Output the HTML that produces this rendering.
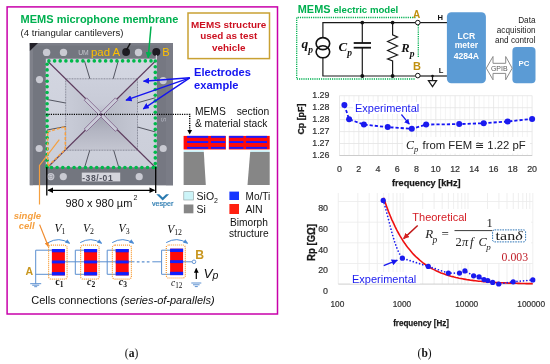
<!DOCTYPE html>
<html><head><meta charset="utf-8">
<style>
html,body{margin:0;padding:0;background:#fff;width:550px;height:364px;overflow:hidden}
svg{display:block}
text{font-family:"Liberation Sans",Arial,sans-serif}
.sf,.sf text,.sf tspan{font-family:"Liberation Serif","Times New Roman",serif}
</style></head><body>
<svg width="550" height="364" viewBox="0 0 550 364">
<defs>
<marker id="agr" viewBox="0 0 10 10" refX="9" refY="5" markerWidth="4.2" markerHeight="4.2" orient="auto"><path d="M0,0 L10,5 L0,10 z" fill="#00b050"/></marker>
<marker id="abl" viewBox="0 0 10 10" refX="9" refY="5" markerWidth="4.5" markerHeight="4.5" orient="auto"><path d="M0,0 L10,5 L0,10 z" fill="#1414f0"/></marker>
<marker id="abk" viewBox="0 0 10 10" refX="9" refY="5" markerWidth="4" markerHeight="4" orient="auto"><path d="M0,0 L10,5 L0,10 z" fill="#000"/></marker>
<marker id="aor" viewBox="0 0 10 10" refX="9" refY="5" markerWidth="4" markerHeight="4" orient="auto"><path d="M0,0 L10,5 L0,10 z" fill="#f08a2c"/></marker>
<marker id="ared" viewBox="0 0 10 10" refX="9" refY="5" markerWidth="4" markerHeight="4" orient="auto"><path d="M0,0 L10,5 L0,10 z" fill="#d42020"/></marker>
<marker id="alb" viewBox="0 0 10 10" refX="8" refY="5" markerWidth="5" markerHeight="5" orient="auto"><path d="M0,1 L10,5 L0,9 z" fill="#4a8ad4"/></marker>
<linearGradient id="gmem" x1="0" y1="0" x2="0" y2="1">
<stop offset="0" stop-color="#d3d6e1"/><stop offset="1" stop-color="#cbced9"/></linearGradient>
<radialGradient id="gctr" cx="0.5" cy="0.5" r="0.6">
<stop offset="0" stop-color="#a9acbb"/><stop offset="0.5" stop-color="#c0c3d0"/><stop offset="1" stop-color="#c9ccd8"/></radialGradient>
<linearGradient id="gtop" x1="0" y1="0" x2="0" y2="1"><stop offset="0" stop-color="#cdd0dc"/><stop offset="0.7" stop-color="#c8cbd7"/><stop offset="1" stop-color="#b8bac7"/></linearGradient>
<linearGradient id="gbot" x1="0" y1="0" x2="0" y2="1"><stop offset="0" stop-color="#9fa1af"/><stop offset="0.45" stop-color="#b3b5c2"/><stop offset="1" stop-color="#c4c6d1"/></linearGradient>
<linearGradient id="grt" x1="0" y1="0" x2="1" y2="0"><stop offset="0" stop-color="#b6b9c5"/><stop offset="1" stop-color="#c4c7d3"/></linearGradient>
<linearGradient id="glf" x1="1" y1="0" x2="0" y2="0"><stop offset="0" stop-color="#bcbfcb"/><stop offset="1" stop-color="#c9ccd8"/></linearGradient>
</defs>

<!-- ============ LEFT PANEL ============ -->
<rect x="7.1" y="6.9" width="270.4" height="307.1" fill="none" stroke="#c800aa" stroke-width="1.5"/>
<text x="20.6" y="23" font-size="11" font-weight="bold" fill="#00b050">MEMS microphone membrane</text>
<text x="20.6" y="35.6" font-size="9.6" fill="#222">(4 triangular cantilevers)</text>

<!-- chip photo -->
<rect x="29.8" y="43" width="143.2" height="142.2" fill="#73767f"/>
<rect x="29.8" y="43" width="3.2" height="142.2" fill="#7f818a"/>
<rect x="157" y="43" width="16" height="142.2" fill="#767882"/>
<rect x="166" y="43" width="7" height="142.2" fill="#7a7c86"/>
<text transform="translate(161,119.5) rotate(90)" font-size="7" fill="#b4b6c0" text-anchor="middle">S</text>
<rect x="29.8" y="43" width="143.2" height="2.5" fill="#7c7e88"/>
<path d="M29.8,43 L38,43 L29.8,51 z" fill="#222028"/>
<rect x="45.8" y="58.7" width="111" height="108.6" fill="url(#gmem)"/>
<g>
<path d="M65.7,78.8 L137.5,78.8 L101,114.6 z" fill="url(#gtop)"/>
<path d="M137.5,78.8 L137.5,150.2 L101,114.6 z" fill="url(#grt)"/>
<path d="M65.7,150.2 L137.5,150.2 L101,114.6 z" fill="url(#gbot)"/>
<path d="M65.7,78.8 L65.7,150.2 L101,114.6 z" fill="url(#glf)"/>
</g>
<rect x="65.7" y="78.8" width="71.8" height="71.4" fill="none" stroke="#6e7080" stroke-width="0.8" stroke-dasharray="0.9 0.7"/>
<!-- short lines -->
<g stroke="#454752" stroke-width="0.9" fill="none">
<line x1="84.5" y1="61" x2="89.9" y2="78.8"/><line x1="118.2" y1="61" x2="113.2" y2="78.8"/>
<line x1="89.8" y1="150.2" x2="84.9" y2="166.5"/><line x1="113.7" y1="150.2" x2="118.5" y2="166.5"/>
<line x1="47" y1="99.5" x2="65.7" y2="103"/><line x1="47" y1="130" x2="65.7" y2="126.5"/>
<line x1="137.5" y1="102.8" x2="155.6" y2="97.7"/><line x1="137.5" y1="127" x2="155.6" y2="132"/>
</g>
<!-- diagonals -->
<g stroke="#5e3c5e" stroke-width="1.1">
<line x1="48" y1="61.5" x2="155" y2="167"/><line x1="155" y1="61.5" x2="48" y2="167"/>
</g>
<!-- electrode bars -->
<g fill="#cacbd8" stroke="#7a5a84" stroke-width="0.7">
<rect x="1" y="-1.7" width="21" height="3.4" transform="translate(101,114.6) rotate(-135)"/>
<rect x="1" y="-1.7" width="21" height="3.4" transform="translate(101,114.6) rotate(-45)"/>
<rect x="1" y="-1.7" width="21" height="3.4" transform="translate(101,114.6) rotate(45)"/>
<rect x="1" y="-1.7" width="21" height="3.4" transform="translate(101,114.6) rotate(135)"/>
</g>
<!-- pads -->
<g fill="#c9cad2">
<circle cx="46.6" cy="52.4" r="3.7"/><circle cx="63.5" cy="52.4" r="3.7"/><circle cx="138.5" cy="52.5" r="3.7"/>
<circle cx="39.5" cy="79.6" r="3.6"/><circle cx="39.2" cy="148.5" r="3.6"/>
<circle cx="163.2" cy="80.6" r="3.6"/><circle cx="163.2" cy="148.5" r="3.6"/>
<circle cx="50.8" cy="176.6" r="3.6"/><circle cx="63.3" cy="176.6" r="3.6"/><circle cx="139.2" cy="176.7" r="3.6"/>
</g>
<circle cx="50.8" cy="176.6" r="2.2" fill="none" stroke="#8a8c96" stroke-width="0.6"/><line x1="48.6" y1="176.6" x2="53" y2="176.6" stroke="#8a8c96" stroke-width="0.6"/>
<circle cx="126.1" cy="52" r="3.9" fill="#1e1c22"/><line x1="126.5" y1="50" x2="130.2" y2="43.3" stroke="#111" stroke-width="1.4"/>
<circle cx="156.3" cy="52" r="4" fill="#1e1c22"/><line x1="156.3" y1="55" x2="156.3" y2="59" stroke="#e6e6ee" stroke-width="1"/>
<text x="78.2" y="55" font-size="6.8" fill="#c4c5cc">UM</text>
<rect x="81.8" y="172.6" width="38.4" height="8.8" fill="#d4d5dc"/>
<text x="82.2" y="180.6" font-size="8.6" fill="#50525e" font-family="Liberation Mono" font-weight="bold" letter-spacing="0.55">-38/-01</text>
<text x="91" y="56.3" font-size="11.4" fill="#ffc000">pad A</text>
<text x="162.2" y="56" font-size="11.2" fill="#ffc000">B</text>
<!-- green dotted square -->
<g fill="#00b84a"><circle cx="48.9" cy="60.9" r="1.8"/><circle cx="54.6" cy="60.9" r="1.8"/><circle cx="60.2" cy="60.9" r="1.8"/><circle cx="65.9" cy="60.9" r="1.8"/><circle cx="71.6" cy="60.9" r="1.8"/><circle cx="77.2" cy="60.9" r="1.8"/><circle cx="82.9" cy="60.9" r="1.8"/><circle cx="88.6" cy="60.9" r="1.8"/><circle cx="94.3" cy="60.9" r="1.8"/><circle cx="99.9" cy="60.9" r="1.8"/><circle cx="105.6" cy="60.9" r="1.8"/><circle cx="111.3" cy="60.9" r="1.8"/><circle cx="116.9" cy="60.9" r="1.8"/><circle cx="122.6" cy="60.9" r="1.8"/><circle cx="128.3" cy="60.9" r="1.8"/><circle cx="133.9" cy="60.9" r="1.8"/><circle cx="139.6" cy="60.9" r="1.8"/><circle cx="145.3" cy="60.9" r="1.8"/><circle cx="151.0" cy="60.9" r="1.8"/><circle cx="155.3" cy="61.0" r="1.8"/><circle cx="155.3" cy="66.7" r="1.8"/><circle cx="155.3" cy="72.4" r="1.8"/><circle cx="155.3" cy="78.1" r="1.8"/><circle cx="155.3" cy="83.8" r="1.8"/><circle cx="155.3" cy="89.5" r="1.8"/><circle cx="155.3" cy="95.2" r="1.8"/><circle cx="155.3" cy="100.9" r="1.8"/><circle cx="155.3" cy="106.6" r="1.8"/><circle cx="155.3" cy="112.3" r="1.8"/><circle cx="155.3" cy="118.0" r="1.8"/><circle cx="155.3" cy="123.7" r="1.8"/><circle cx="155.3" cy="129.4" r="1.8"/><circle cx="155.3" cy="135.1" r="1.8"/><circle cx="155.3" cy="140.8" r="1.8"/><circle cx="155.3" cy="146.5" r="1.8"/><circle cx="155.3" cy="152.2" r="1.8"/><circle cx="155.3" cy="157.9" r="1.8"/><circle cx="155.3" cy="163.6" r="1.8"/><circle cx="155.3" cy="167.5" r="1.8"/><circle cx="153.2" cy="167.5" r="1.8"/><circle cx="147.5" cy="167.5" r="1.8"/><circle cx="141.9" cy="167.5" r="1.8"/><circle cx="136.2" cy="167.5" r="1.8"/><circle cx="130.6" cy="167.5" r="1.8"/><circle cx="124.9" cy="167.5" r="1.8"/><circle cx="119.3" cy="167.5" r="1.8"/><circle cx="113.6" cy="167.5" r="1.8"/><circle cx="108.0" cy="167.5" r="1.8"/><circle cx="102.3" cy="167.5" r="1.8"/><circle cx="96.7" cy="167.5" r="1.8"/><circle cx="91.0" cy="167.5" r="1.8"/><circle cx="85.4" cy="167.5" r="1.8"/><circle cx="79.7" cy="167.5" r="1.8"/><circle cx="74.1" cy="167.5" r="1.8"/><circle cx="68.4" cy="167.5" r="1.8"/><circle cx="62.8" cy="167.5" r="1.8"/><circle cx="57.1" cy="167.5" r="1.8"/><circle cx="51.5" cy="167.5" r="1.8"/><circle cx="47.1" cy="167.3" r="1.8"/><circle cx="47.1" cy="64.2" r="1.8"/><circle cx="47.1" cy="69.9" r="1.8"/><circle cx="47.1" cy="75.5" r="1.8"/><circle cx="47.1" cy="81.2" r="1.8"/><circle cx="47.1" cy="86.8" r="1.8"/><circle cx="47.1" cy="92.5" r="1.8"/><circle cx="47.1" cy="98.1" r="1.8"/><circle cx="47.1" cy="103.8" r="1.8"/><circle cx="47.1" cy="109.4" r="1.8"/><circle cx="47.1" cy="115.1" r="1.8"/><circle cx="47.1" cy="120.7" r="1.8"/><circle cx="47.1" cy="126.4" r="1.8"/><circle cx="47.1" cy="132.0" r="1.8"/><circle cx="47.1" cy="137.7" r="1.8"/><circle cx="47.1" cy="143.3" r="1.8"/><circle cx="47.1" cy="148.9" r="1.8"/><circle cx="47.1" cy="154.6" r="1.8"/><circle cx="47.1" cy="160.2" r="1.8"/><circle cx="47.1" cy="165.9" r="1.8"/></g>
<!-- single cell dashed outline -->
<line x1="151" y1="26.5" x2="148.2" y2="57.8" stroke="#00b050" stroke-width="1.5" marker-end="url(#agr)"/>
<path d="M47.6,131.8 L65.3,126.6 L65.3,149.5 L47.8,166.3 Z" fill="none" stroke="#f7a040" stroke-width="1.5" stroke-dasharray="3 1.8"/>
<polyline points="59.3,139.6 39.5,165.4 39.5,204.5" fill="none" stroke="#f5a040" stroke-width="1.2"/>
<!-- dotted section line -->
<polyline points="46.2,114.4 189.7,114.4 189.7,131" fill="none" stroke="#000" stroke-width="1.4" stroke-dasharray="1.2 1.1"/>
<path d="M187.3,130 L192.1,130 L189.7,134.5 z" fill="#000"/>
<!-- dimension -->
<line x1="46.8" y1="167" x2="46.8" y2="195.5" stroke="#000" stroke-width="1.3"/>
<line x1="155.7" y1="167" x2="155.7" y2="193" stroke="#000" stroke-width="1.3"/>
<line x1="48" y1="190.3" x2="154.5" y2="190.3" stroke="#000" stroke-width="1.3"/>
<path d="M47.3,190.3 L53,187.6 L53,193 z" fill="#000"/><path d="M155.2,190.3 L149.5,187.6 L149.5,193 z" fill="#000"/>
<text x="65.5" y="207.3" font-size="11" fill="#111">980 x 980 µm</text>
<text x="133.5" y="199.5" font-size="7" fill="#111">2</text>
<!-- vesper logo -->
<path d="M156.3,194.3 L159.3,194.3 L162.7,197.6 L166.1,194.3 L169.1,194.3 L162.7,200.6 Z" fill="#2a7ab0"/>
<text x="152" y="205.6" font-size="7.4" fill="#2a7ab0" textLength="21.4" lengthAdjust="spacingAndGlyphs" stroke="#2a7ab0" stroke-width="0.2">vesper</text>

<!-- blue arrows electrodes -->
<g stroke="#1414f0" stroke-width="1.4" marker-end="url(#abl)">
<line x1="189.8" y1="77.8" x2="143.5" y2="81.2"/>
<line x1="189.8" y1="77.8" x2="126" y2="100.2"/>
<line x1="189.8" y1="77.8" x2="143.3" y2="108.8"/>
</g>

<!-- right column of left panel -->
<rect x="188" y="13" width="81.5" height="45.6" fill="#fff" stroke="#c9a133" stroke-width="1.5"/>
<g font-size="9.9" font-weight="bold" fill="#cc1020" text-anchor="middle">
<text x="228.7" y="28.1">MEMS structure</text>
<text x="228.7" y="39.4">used as test</text>
<text x="228.7" y="50.7">vehicle</text>
</g>
<text x="194.1" y="75.9" font-size="11.1" font-weight="bold" fill="#1414f0">Electrodes</text>
<text x="194.1" y="88.7" font-size="11.1" font-weight="bold" fill="#1414f0">example</text>
<text x="194.9" y="114.8" font-size="10.3" fill="#111">MEMS <tspan dx="8">section</tspan></text>
<text x="194.9" y="126.7" font-size="10.2" fill="#111">&amp; material stack</text>

<!-- stack -->
<rect x="183.6" y="135.9" width="42.3" height="13.6" fill="#ff0a0a"/>
<rect x="228.8" y="135.9" width="40.9" height="13.6" fill="#ff0a0a"/>
<g fill="#1a1aff"><rect x="187.1" y="135.9" width="21.1" height="1.9"/><rect x="187.1" y="141.1" width="21.1" height="1.9"/><rect x="187.1" y="146.9" width="21.1" height="1.9"/><rect x="210.9" y="135.9" width="14.3" height="1.9"/><rect x="210.9" y="141.1" width="14.3" height="1.9"/><rect x="210.9" y="146.9" width="14.3" height="1.9"/><rect x="229.3" y="135.9" width="14.1" height="1.9"/><rect x="229.3" y="141.1" width="14.1" height="1.9"/><rect x="229.3" y="146.9" width="14.1" height="1.9"/><rect x="246.1" y="135.9" width="20.9" height="1.9"/><rect x="246.1" y="141.1" width="20.9" height="1.9"/><rect x="246.1" y="146.9" width="20.9" height="1.9"/></g>
<rect x="183.6" y="150.4" width="20.2" height="1.5" fill="#c6eef4"/>
<rect x="250.2" y="150.4" width="19.5" height="1.5" fill="#c6eef4"/>
<path d="M183.6,151.9 L203.8,151.9 L205.8,185 L183.6,185 z" fill="#868686"/>
<path d="M250.2,151.9 L269.7,151.9 L269.7,185 L247.5,185 z" fill="#868686"/>
<!-- legend -->
<rect x="183.8" y="191.7" width="9.6" height="8.3" fill="#ccf4f8" stroke="#8a9a9c" stroke-width="0.6"/>
<rect x="183.8" y="204.5" width="9.6" height="8.8" fill="#868686"/>
<rect x="229.4" y="191.6" width="9.6" height="8.4" fill="#1535ff"/>
<rect x="229.4" y="204" width="9.6" height="10" fill="#ff2010"/>
<text x="196.6" y="200" font-size="10.5" fill="#111">SiO<tspan font-size="7" dy="3">2</tspan></text>
<text x="196.6" y="213.2" font-size="10.5" fill="#111">Si</text>
<text x="245.6" y="200" font-size="10" fill="#111">Mo/Ti</text>
<text x="245.6" y="213.2" font-size="10.5" fill="#111">AlN</text>
<text x="230" y="225.8" font-size="10.2" fill="#111">Bimorph</text>
<text x="229" y="237.3" font-size="10.2" fill="#111">structure</text>

<!-- single cell label -->
<g font-size="9.5" font-weight="bold" font-style="italic" fill="#f5a040">
<text x="13.7" y="218.5">single</text><text x="18.8" y="228.5">cell</text>
</g>
<line x1="39.6" y1="224.6" x2="48.3" y2="246.5" stroke="#f08a2c" stroke-width="1.2" marker-end="url(#aor)"/>

<!-- cells -->
<g id="cells">
<g stroke="#5b8fd0" stroke-width="1" fill="none">
<polyline points="51.9,250.2 35.7,250.2 35.7,283.7"/><line x1="35.7" y1="274.3" x2="51.9" y2="274.3"/>
<line x1="64.9" y1="261.8" x2="84" y2="261.8"/>
<polyline points="84,250.2 75.3,250.2 75.3,274.3 84,274.3"/>
<line x1="97" y1="261.8" x2="115.7" y2="261.8"/>
<polyline points="115.7,250.2 107.2,250.2 107.2,274.3 115.7,274.3"/>
<line x1="129" y1="261.8" x2="134.5" y2="261.8"/>
<line x1="136.8" y1="261.8" x2="150" y2="261.8" stroke-dasharray="2.7 2.3" stroke-width="1.3"/>
<line x1="152.3" y1="261.8" x2="161.6" y2="261.8"/>
<polyline points="170.1,250.2 161.6,250.2 161.6,274.3 170.1,274.3"/>
<line x1="181.8" y1="261.8" x2="192" y2="261.8"/>
<path d="M30.2,283.7 H41.2 M32.2,285.2 H39.2 M34.2,286.7 H37.2"/>
<path d="M191.3,283 H201.3 M193,284.8 H199.6 M194.8,286.6 H197.8"/>
</g>
<circle cx="194" cy="261.8" r="1.8" fill="#fff" stroke="#5b8fd0" stroke-width="0.9"/>
<g id="c1">
<rect x="51.9" y="249" width="13" height="26.4" fill="#ff0a0a"/>
<rect x="51.9" y="249" width="13" height="3.3" fill="#1020ff"/><rect x="51.9" y="260.5" width="13" height="2.9" fill="#1020ff"/><rect x="51.9" y="272.1" width="13" height="3.3" fill="#1020ff"/>
</g>
<g transform="translate(32.2,0)">
<rect x="51.9" y="249" width="13" height="26.4" fill="#ff0a0a"/>
<rect x="51.9" y="249" width="13" height="3.3" fill="#1020ff"/><rect x="51.9" y="260.5" width="13" height="2.9" fill="#1020ff"/><rect x="51.9" y="272.1" width="13" height="3.3" fill="#1020ff"/>
</g>
<g transform="translate(63.8,0)">
<rect x="51.9" y="249" width="13" height="26.4" fill="#ff0a0a"/>
<rect x="51.9" y="249" width="13" height="3.3" fill="#1020ff"/><rect x="51.9" y="260.5" width="13" height="2.9" fill="#1020ff"/><rect x="51.9" y="272.1" width="13" height="3.3" fill="#1020ff"/>
</g>
<g transform="translate(118.2,-0.3)">
<rect x="51.9" y="249" width="13" height="26.4" fill="#ff0a0a"/>
<rect x="51.9" y="249" width="13" height="3.3" fill="#1020ff"/><rect x="51.9" y="260.5" width="13" height="2.9" fill="#1020ff"/><rect x="51.9" y="272.1" width="13" height="3.3" fill="#1020ff"/>
</g>

<g fill="none" stroke="#f7962a" stroke-width="1.2" stroke-dasharray="1 1">
<rect x="48.6" y="245.2" width="18.5" height="34" rx="2.5"/>
<rect x="80.6" y="245.2" width="18.5" height="34" rx="2.5"/>
<rect x="112.4" y="245.2" width="19" height="34" rx="2.5"/>
<rect x="166.3" y="245" width="19" height="33" rx="2.5"/>
</g>
<g fill="none" stroke="#4a8ad4" stroke-width="1" marker-end="url(#alb)">
<path d="M48.2,242.6 Q58.8,236.4 69.5,243.2"/>
<path d="M80.2,242.6 Q90.8,236.4 101.5,243.2"/>
<path d="M112.2,242.6 Q122.8,236.4 133.5,243.2"/>
<path d="M166.2,242.6 Q176.8,236.4 187.5,243.2"/>
</g>
</g>
<g class="sf" font-style="italic" fill="#111">
<text x="54.4" y="232.4" font-size="11.5">V<tspan font-size="7.8" dy="1.6" font-style="normal">1</tspan></text>
<text x="83" y="232.4" font-size="11.5">V<tspan font-size="7.8" dy="1.6" font-style="normal">2</tspan></text>
<text x="118.6" y="232.4" font-size="11.5">V<tspan font-size="7.8" dy="1.6" font-style="normal">3</tspan></text>
<text x="167.2" y="233.2" font-size="11.5">V<tspan font-size="7.8" dy="1.6" font-style="normal">12</tspan></text>
<text x="55.3" y="285.2" font-size="10" font-weight="bold" font-style="normal">c<tspan font-size="7.5" dy="2.2">1</tspan></text>
<text x="87" y="285.2" font-size="10" font-weight="bold">c<tspan font-size="7.5" dy="2.2" font-style="normal">2</tspan></text>
<text x="118.8" y="285.2" font-size="10" font-weight="bold">c<tspan font-size="7.5" dy="2.2" font-style="normal">3</tspan></text>
<text x="171" y="285.6" font-size="9.5">c<tspan font-size="7.2" dy="2.2" font-style="normal">12</tspan></text>
</g>
<text x="25.4" y="275.1" font-size="10.5" font-weight="bold" fill="#c8961e">A</text>
<text x="195.3" y="259.2" font-size="12.2" font-weight="bold" fill="#c8961e">B</text>
<text x="203.4" y="278.4" font-size="13.5" font-style="italic" fill="#111">V<tspan font-size="10.5" dy="0.5">p</tspan></text>
<line x1="196.3" y1="279" x2="196.3" y2="268.5" stroke="#000" stroke-width="1.2" marker-end="url(#abk)"/>
<text x="31.2" y="303.9" font-size="11" fill="#111">Cells connections <tspan font-style="italic">(series-of-parallels)</tspan></text>

<!-- ============ RIGHT PANEL ============ -->
<text x="297.8" y="12.7" font-size="10.9" font-weight="bold" fill="#00b050">MEMS <tspan font-size="9.65">electric model</tspan></text>
<path d="M415.5,17.5 H296.7 V79 H415.5 M418.3,25 V57.5" fill="none" stroke="#00b050" stroke-width="1.3" stroke-dasharray="1.2 1"/>
<g stroke="#1a1a1a" stroke-width="1.2" fill="none">
<polyline points="415.5,22.6 322.9,22.6 322.9,37.5"/>
<polyline points="415.5,76 322.9,76 322.9,58"/>
<line x1="362.3" y1="22.6" x2="362.3" y2="43"/><line x1="362.3" y1="47.7" x2="362.3" y2="76"/>
<polyline points="392.6,22.6 392.6,34.8 397.5,37 387.6,41.5 397.5,46 387.6,50.5 397.5,55 387.6,59 392.6,61 392.6,76"/>
<line x1="420" y1="22.6" x2="447" y2="22.6"/><line x1="420" y1="76" x2="447" y2="76"/>
<path d="M432.5,76 V80.6 M428.4,80.6 H436.6 L432.5,86.6 Z"/>
</g>
<g stroke="#111" stroke-width="1.6" fill="none">
<ellipse cx="322.9" cy="43.6" rx="6.8" ry="6"/><ellipse cx="322.9" cy="51.8" rx="6.8" ry="6"/>
<line x1="353.7" y1="43" x2="371" y2="43" stroke-width="1.8"/><line x1="353.7" y1="47.7" x2="371" y2="47.7" stroke-width="1.8"/>
</g>
<g fill="#111"><circle cx="362.3" cy="22.6" r="1.9"/><circle cx="392.6" cy="22.6" r="1.9"/><circle cx="362.3" cy="76" r="1.9"/><circle cx="392.6" cy="76" r="1.9"/><circle cx="432.5" cy="76" r="1.3"/></g>
<circle cx="417.8" cy="22.6" r="2.3" fill="#fff" stroke="#111" stroke-width="1"/>
<circle cx="417.8" cy="75.6" r="2.3" fill="#fff" stroke="#111" stroke-width="1"/>
<g class="sf" font-weight="bold" font-style="italic" fill="#111">
<text x="301.5" y="48" font-size="13.5">q<tspan font-size="9.5" dy="5">p</tspan></text>
<text x="338.5" y="50.6" font-size="13">C<tspan font-size="9.5" dy="5">p</tspan></text>
<text x="401.3" y="51.6" font-size="12.5">R<tspan font-size="9.5" dy="5">p</tspan></text>
</g>
<text x="413.1" y="17.8" font-size="10" font-weight="bold" fill="#c09010">A</text>
<text x="413" y="70.3" font-size="11" font-weight="bold" fill="#c09010">B</text>
<text x="437.6" y="19.6" font-size="7.6" font-weight="bold" fill="#111">H</text>
<text x="438.8" y="73.2" font-size="7.6" font-weight="bold" fill="#111">L</text>
<rect x="446.9" y="12.3" width="39" height="70.9" rx="4.5" fill="#5b9bd5"/>
<g font-size="8.6" font-weight="bold" fill="#fff" text-anchor="middle">
<text x="466.4" y="38.6">LCR</text><text x="466.4" y="48.2">meter</text><text x="466.4" y="59">4284A</text>
</g>
<rect x="512.4" y="46.9" width="23.1" height="36.3" rx="4" fill="#5b9bd5"/>
<text x="524" y="65.7" font-size="7.8" font-weight="bold" fill="#fff" text-anchor="middle">PC</text>
<path d="M486.3,68.2 L493,56.5 L493,63.3 L505.7,63.3 L505.7,56.5 L512.2,68.2 L505.7,79.8 L505.7,73.4 L493,73.4 L493,79.8 Z" fill="#fff" stroke="#8a8a8a" stroke-width="1"/>
<text x="499.3" y="70.9" font-size="7" fill="#5a5a5a" text-anchor="middle">GPIB</text>
<g font-size="8.2" fill="#222" text-anchor="end">
<text x="535.5" y="23.2">Data</text><text x="535.5" y="33.3">acquisition</text><text x="535.5" y="43.2">and control</text>
</g>

<!-- Cp chart -->
<g id="cpchart">
<g stroke="#efefef" stroke-width="0.7"><line x1="344.3" y1="95.7" x2="344.3" y2="155.5"/><line x1="349.1" y1="95.7" x2="349.1" y2="155.5"/><line x1="353.9" y1="95.7" x2="353.9" y2="155.5"/><line x1="363.6" y1="95.7" x2="363.6" y2="155.5"/><line x1="368.4" y1="95.7" x2="368.4" y2="155.5"/><line x1="373.2" y1="95.7" x2="373.2" y2="155.5"/><line x1="382.8" y1="95.7" x2="382.8" y2="155.5"/><line x1="387.6" y1="95.7" x2="387.6" y2="155.5"/><line x1="392.5" y1="95.7" x2="392.5" y2="155.5"/><line x1="402.1" y1="95.7" x2="402.1" y2="155.5"/><line x1="406.9" y1="95.7" x2="406.9" y2="155.5"/><line x1="411.7" y1="95.7" x2="411.7" y2="155.5"/><line x1="421.4" y1="95.7" x2="421.4" y2="155.5"/><line x1="426.2" y1="95.7" x2="426.2" y2="155.5"/><line x1="431.0" y1="95.7" x2="431.0" y2="155.5"/><line x1="440.6" y1="95.7" x2="440.6" y2="155.5"/><line x1="445.4" y1="95.7" x2="445.4" y2="155.5"/><line x1="450.2" y1="95.7" x2="450.2" y2="155.5"/><line x1="459.9" y1="95.7" x2="459.9" y2="155.5"/><line x1="464.7" y1="95.7" x2="464.7" y2="155.5"/><line x1="469.5" y1="95.7" x2="469.5" y2="155.5"/><line x1="479.1" y1="95.7" x2="479.1" y2="155.5"/><line x1="484.0" y1="95.7" x2="484.0" y2="155.5"/><line x1="488.8" y1="95.7" x2="488.8" y2="155.5"/><line x1="498.4" y1="95.7" x2="498.4" y2="155.5"/><line x1="503.2" y1="95.7" x2="503.2" y2="155.5"/><line x1="508.0" y1="95.7" x2="508.0" y2="155.5"/><line x1="517.7" y1="95.7" x2="517.7" y2="155.5"/><line x1="522.5" y1="95.7" x2="522.5" y2="155.5"/><line x1="527.3" y1="95.7" x2="527.3" y2="155.5"/></g>
<g stroke="#e3e3e3" stroke-width="0.8"><line x1="339.5" y1="95.7" x2="339.5" y2="155.5"/><line x1="358.8" y1="95.7" x2="358.8" y2="155.5"/><line x1="378.0" y1="95.7" x2="378.0" y2="155.5"/><line x1="397.3" y1="95.7" x2="397.3" y2="155.5"/><line x1="416.5" y1="95.7" x2="416.5" y2="155.5"/><line x1="435.8" y1="95.7" x2="435.8" y2="155.5"/><line x1="455.1" y1="95.7" x2="455.1" y2="155.5"/><line x1="474.3" y1="95.7" x2="474.3" y2="155.5"/><line x1="493.6" y1="95.7" x2="493.6" y2="155.5"/><line x1="512.8" y1="95.7" x2="512.8" y2="155.5"/><line x1="532.1" y1="95.7" x2="532.1" y2="155.5"/><line x1="339.5" y1="95.7" x2="532.1" y2="95.7"/><line x1="339.5" y1="107.7" x2="532.1" y2="107.7"/><line x1="339.5" y1="119.6" x2="532.1" y2="119.6"/><line x1="339.5" y1="131.6" x2="532.1" y2="131.6"/><line x1="339.5" y1="143.5" x2="532.1" y2="143.5"/><line x1="339.5" y1="155.5" x2="532.1" y2="155.5"/></g>
<line x1="339.5" y1="155.5" x2="532.1" y2="155.5" stroke="#c8c8c8" stroke-width="0.9"/>
<rect x="403" y="137" width="127" height="16.5" fill="#fff"/>
<g font-size="8.9" fill="#333" stroke="#333" stroke-width="0.2" text-anchor="end"><text x="329.5" y="98.3">1.29</text><text x="329.5" y="110.3">1.28</text><text x="329.5" y="122.2">1.28</text><text x="329.5" y="134.2">1.27</text><text x="329.5" y="146.1">1.27</text><text x="329.5" y="158.1">1.26</text></g>
<g font-size="8.9" fill="#333" stroke="#333" stroke-width="0.2" text-anchor="middle"><text x="339.5" y="171.5">0</text><text x="358.8" y="171.5">2</text><text x="378.0" y="171.5">4</text><text x="397.3" y="171.5">6</text><text x="416.5" y="171.5">8</text><text x="435.8" y="171.5">10</text><text x="455.1" y="171.5">12</text><text x="474.3" y="171.5">14</text><text x="493.6" y="171.5">16</text><text x="512.8" y="171.5">18</text><text x="532.1" y="171.5">20</text></g>
<polyline points="344.4,105.1 349.1,119.3 363.9,124.6 387.7,127.1 411.8,128.8 426.1,124.6 459.2,124.1 483.7,123.2 507.6,121.5 532.1,118.9" fill="none" stroke="#1515f5" stroke-width="1.8" stroke-dasharray="3.2 2"/>
<g fill="#1a1aef"><circle cx="344.4" cy="105.1" r="3"/><circle cx="349.1" cy="119.3" r="3"/><circle cx="363.9" cy="124.6" r="3"/><circle cx="387.7" cy="127.1" r="3"/><circle cx="411.8" cy="128.8" r="3"/><circle cx="426.1" cy="124.6" r="3"/><circle cx="459.2" cy="124.1" r="3"/><circle cx="483.7" cy="123.2" r="3"/><circle cx="507.6" cy="121.5" r="3"/><circle cx="532.1" cy="118.9" r="3"/></g>
<rect x="353" y="102" width="67" height="12" fill="#fff"/>
<text x="355" y="112" font-size="11" fill="#1a1aef">Experimental</text>
<line x1="401.4" y1="114.5" x2="409.3" y2="124.2" stroke="#1a1aef" stroke-width="1.2" marker-end="url(#abl)"/>
<text x="406" y="149.3" class="sf" font-style="italic" font-size="12" fill="#222">C<tspan font-size="8.5" dy="2.5">p</tspan></text>
<text x="422.5" y="149.3" font-size="11.3" fill="#222">from FEM ≅ 1.22 pF</text>
<text x="392" y="185.6" font-size="9.6" font-weight="bold" fill="#1a1a1a" stroke="#1a1a1a" stroke-width="0.25" textLength="68.5" lengthAdjust="spacingAndGlyphs">frequency [kHz]</text>
<text transform="translate(303.6,119.1) rotate(-90)" font-size="9" font-weight="bold" fill="#1a1a1a" stroke="#1a1a1a" stroke-width="0.3" text-anchor="middle" textLength="31" lengthAdjust="spacingAndGlyphs">Cp [pF]</text>
</g><!--endcp-->

<!-- Rp chart -->
<g id="rpchart">
<g stroke="#ebebeb" stroke-width="0.8"><line x1="338.3" y1="193.0" x2="338.3" y2="284.1"/><line x1="357.8" y1="193.0" x2="357.8" y2="284.1"/><line x1="369.2" y1="193.0" x2="369.2" y2="284.1"/><line x1="377.3" y1="193.0" x2="377.3" y2="284.1"/><line x1="383.6" y1="193.0" x2="383.6" y2="284.1"/><line x1="388.8" y1="193.0" x2="388.8" y2="284.1"/><line x1="393.1" y1="193.0" x2="393.1" y2="284.1"/><line x1="396.9" y1="193.0" x2="396.9" y2="284.1"/><line x1="400.2" y1="193.0" x2="400.2" y2="284.1"/><line x1="403.1" y1="193.0" x2="403.1" y2="284.1"/><line x1="422.7" y1="193.0" x2="422.7" y2="284.1"/><line x1="434.1" y1="193.0" x2="434.1" y2="284.1"/><line x1="442.2" y1="193.0" x2="442.2" y2="284.1"/><line x1="448.4" y1="193.0" x2="448.4" y2="284.1"/><line x1="453.6" y1="193.0" x2="453.6" y2="284.1"/><line x1="457.9" y1="193.0" x2="457.9" y2="284.1"/><line x1="461.7" y1="193.0" x2="461.7" y2="284.1"/><line x1="465.0" y1="193.0" x2="465.0" y2="284.1"/><line x1="468.0" y1="193.0" x2="468.0" y2="284.1"/><line x1="487.5" y1="193.0" x2="487.5" y2="284.1"/><line x1="498.9" y1="193.0" x2="498.9" y2="284.1"/><line x1="507.0" y1="193.0" x2="507.0" y2="284.1"/><line x1="513.3" y1="193.0" x2="513.3" y2="284.1"/><line x1="518.4" y1="193.0" x2="518.4" y2="284.1"/><line x1="522.8" y1="193.0" x2="522.8" y2="284.1"/><line x1="526.5" y1="193.0" x2="526.5" y2="284.1"/><line x1="529.8" y1="193.0" x2="529.8" y2="284.1"/><line x1="532.8" y1="193.0" x2="532.8" y2="284.1"/><line x1="338.3" y1="263.5" x2="532.8" y2="263.5"/><line x1="338.3" y1="242.8" x2="532.8" y2="242.8"/><line x1="338.3" y1="222.2" x2="532.8" y2="222.2"/><line x1="338.3" y1="201.5" x2="532.8" y2="201.5"/></g>
<line x1="338.3" y1="284.1" x2="532.8" y2="284.1" stroke="#c8c8c8" stroke-width="0.9"/>
<g font-size="8.9" fill="#333" stroke="#333" stroke-width="0.2" text-anchor="end"><text x="328" y="211.1">80</text><text x="328" y="231.9">60</text><text x="328" y="252.5">40</text><text x="328" y="273.2">20</text><text x="328" y="294.0">0</text></g>
<g font-size="8.3" fill="#333" stroke="#333" stroke-width="0.2" text-anchor="middle"><text x="337.4" y="306.7">100</text><text x="401.9" y="306.7">1000</text><text x="466.7" y="306.7">10000</text><text x="531.2" y="306.7">100000</text></g>
<rect x="410" y="209" width="121" height="54" fill="#fff"/>
<rect x="350" y="272" width="70" height="11.5" fill="#fff"/>
<polyline points="383.6,197.8 385.3,202.7 386.9,207.3 388.5,211.6 390.2,215.7 391.8,219.6 393.5,223.2 395.1,226.7 396.7,229.9 398.4,233.0 400.0,235.9 401.7,238.6 403.3,241.2 404.9,243.6 406.6,245.9 408.2,248.1 409.9,250.1 411.5,252.0 413.1,253.9 414.8,255.6 416.4,257.2 418.1,258.7 419.7,260.1 421.4,261.5 423.0,262.8 424.6,264.0 426.3,265.1 427.9,266.2 429.6,267.2 431.2,268.2 432.8,269.1 434.5,269.9 436.1,270.7 437.8,271.5 439.4,272.2 441.0,272.9 442.7,273.5 444.3,274.1 446.0,274.7 447.6,275.2 449.2,275.7 450.9,276.2 452.5,276.6 454.2,277.1 455.8,277.5 457.4,277.8 459.1,278.2 460.7,278.5 462.4,278.8 464.0,279.1 465.6,279.4 467.3,279.7 468.9,279.9 470.6,280.2 472.2,280.4 473.9,280.6 475.5,280.8 477.1,281.0 478.8,281.2 480.4,281.3 482.1,281.5 483.7,281.6 485.3,281.8 487.0,281.9 488.6,282.0 490.3,282.1 491.9,282.3 493.5,282.4 495.2,282.5 496.8,282.6 498.5,282.6 500.1,282.7 501.7,282.8 503.4,282.9 505.0,282.9 506.7,283.0 508.3,283.1 509.9,283.1 511.6,283.2 513.2,283.2 514.9,283.3 516.5,283.3 518.2,283.4 519.8,283.4 521.4,283.5 523.1,283.5 524.7,283.5 526.4,283.6 528.0,283.6 529.6,283.6 531.3,283.6 532.8,283.7" fill="none" stroke="#ee1111" stroke-width="1.6"/>
<path d="M383.2,200.4 C390,222 394,248 402.4,258.2 L428.3,266.4 L448.4,273.1 L459.5,273.1 L464.9,270.9 L473.6,275.8 L479.1,276.9 L484,279.6 L487.8,280.5 L492.7,282.4 L498.7,284 L513.2,281.8 L532.8,279.9" fill="none" stroke="#1a1aef" stroke-width="1.7" stroke-dasharray="0 3.3" stroke-linecap="round"/>
<g fill="#1a1aef"><circle cx="383.2" cy="200.4" r="2.6"/><circle cx="402.4" cy="258.2" r="2.6"/><circle cx="428.3" cy="266.4" r="2.6"/><circle cx="448.4" cy="273.1" r="2.6"/><circle cx="459.5" cy="273.1" r="2.6"/><circle cx="464.9" cy="270.9" r="2.6"/><circle cx="473.6" cy="275.8" r="2.6"/><circle cx="479.1" cy="276.9" r="2.6"/><circle cx="484" cy="279.6" r="2.6"/><circle cx="487.8" cy="280.5" r="2.6"/><circle cx="492.7" cy="282.4" r="2.6"/><circle cx="498.7" cy="284" r="2.6"/><circle cx="513.2" cy="281.8" r="2.6"/><circle cx="532.8" cy="279.9" r="2.6"/></g>
<text x="412.3" y="221.2" font-size="11" fill="#d41c24">Theoretical</text>
<line x1="417.7" y1="225.5" x2="403.6" y2="238.6" stroke="#c01818" stroke-width="1.5" marker-end="url(#ared)"/>
<text x="352" y="282.9" font-size="11" fill="#1a1aef">Experimental</text>
<line x1="383.7" y1="265.6" x2="397.3" y2="260.2" stroke="#1a1aef" stroke-width="1.4" marker-end="url(#abl)"/>
<g class="sf" fill="#222"><text x="425.2" y="237.6" font-size="13" font-style="italic">R</text><text x="432.4" y="242.6" font-size="9.5" font-style="italic">p</text><text x="441.5" y="238.2" font-size="13">=</text><line x1="454.5" y1="230.6" x2="492.4" y2="230.6" stroke="#222" stroke-width="0.9"/><text x="486.6" y="227.4" font-size="12.5">1</text><text x="455.5" y="246" font-size="12.5">2</text><text x="462" y="246" font-size="12.5" font-style="italic">π</text><text x="470" y="246" font-size="12.5" font-style="italic">f</text><text x="478.5" y="246" font-size="12.5" font-style="italic">C</text><text x="486.2" y="249.5" font-size="9" font-style="italic">p</text></g>
<rect x="492.6" y="229.9" width="33" height="12" rx="2" fill="#fff" stroke="#2e75b6" stroke-width="1" stroke-dasharray="1.6 1"/>
<text x="495.6" y="240" class="sf" font-size="12.6" fill="#222" textLength="27" lengthAdjust="spacingAndGlyphs">tan<tspan font-style="italic">δ</tspan></text>
<text x="501.6" y="261" class="sf" font-size="11.8" fill="#c0202a">0.003</text>
<text x="393.2" y="325.6" font-size="8.6" font-weight="bold" fill="#1a1a1a" stroke="#1a1a1a" stroke-width="0.25" textLength="55.8" lengthAdjust="spacingAndGlyphs">frequency [Hz]</text>
<text transform="translate(314.5,242.5) rotate(-90)" font-size="10.3" font-weight="bold" fill="#1a1a1a" stroke="#1a1a1a" stroke-width="0.3" text-anchor="middle" textLength="37" lengthAdjust="spacingAndGlyphs">Rp [GΩ]</text>
</g><!--endrp-->

<text x="131.5" y="357.3" class="sf" font-size="11.5" text-anchor="middle" fill="#111">(<tspan font-weight="bold">a</tspan>)</text>
<text x="424.6" y="357.3" class="sf" font-size="11.5" text-anchor="middle" fill="#111">(<tspan font-weight="bold">b</tspan>)</text>
</svg>
</body></html>
